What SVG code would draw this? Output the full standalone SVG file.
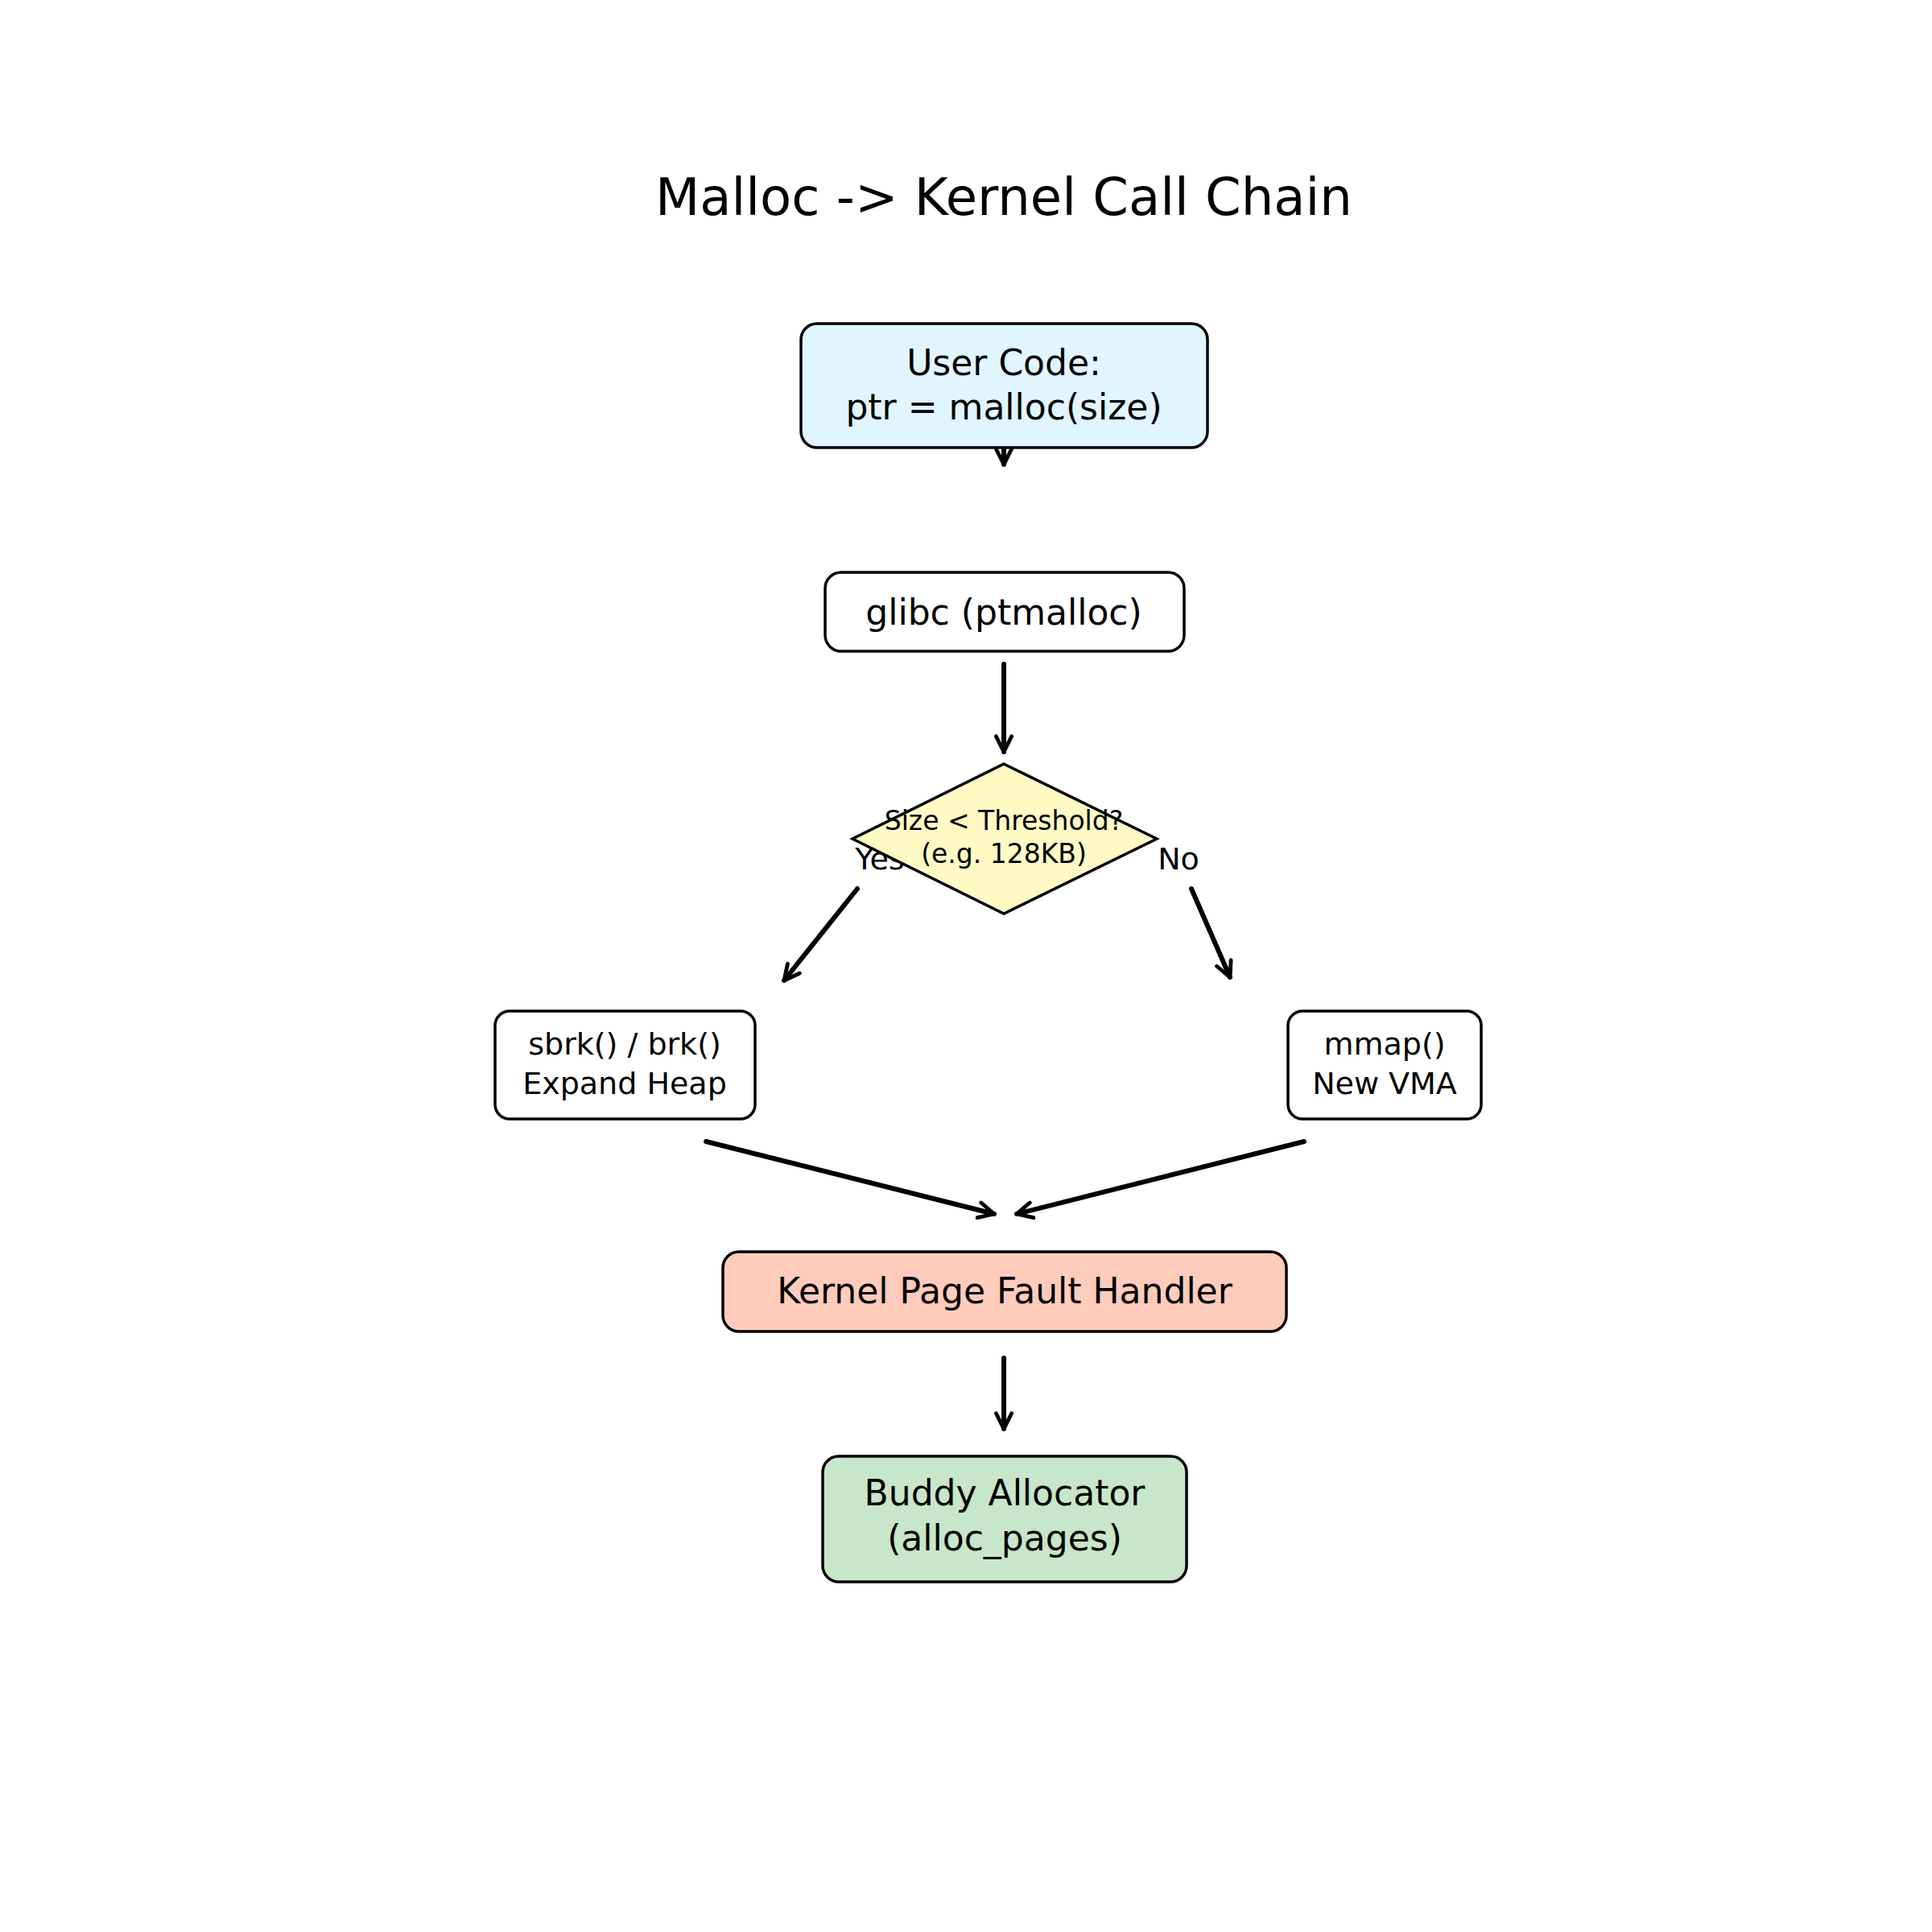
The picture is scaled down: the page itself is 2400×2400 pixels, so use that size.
<svg xmlns="http://www.w3.org/2000/svg" width="2400" height="2400" viewBox="0 0 2400 2400">
<style>
text{font-family:"DejaVu Sans",sans-serif;fill:#000;text-anchor:middle;dominant-baseline:central}
.box{stroke:#000;stroke-width:3.5}
.c{stroke:#000;stroke-width:6;fill:none;stroke-linecap:round;marker-end:url(#ah)}
</style>
<defs>
<marker id="ah" markerWidth="10" markerHeight="10" refX="8" refY="5" orient="auto" markerUnits="userSpaceOnUse" viewBox="0 0 10 10">
</marker>
<marker id="a" viewBox="0 0 20 20" refX="18" refY="10" markerWidth="24" markerHeight="24" markerUnits="userSpaceOnUse" orient="auto">
<path d="M2,2 L18,10 L2,18" fill="none" stroke="#000" stroke-width="4" stroke-linecap="round" stroke-linejoin="round"/>
</marker>
</defs>
<rect width="2400" height="2400" fill="#fff"/>
<text x="1247" y="245" font-size="64">Malloc -&gt; Kernel Call Chain</text>
<g id="connectors">
<path class="c" style="marker-end:url(#a)" d="M1247,556 L1247,577"/>
<path class="c" style="marker-end:url(#a)" d="M1247,825 L1247,934"/>
<path class="c" style="marker-end:url(#a)" d="M1065,1104 L974,1218"/>
<path class="c" style="marker-end:url(#a)" d="M1480,1104 L1528,1214"/>
<path class="c" style="marker-end:url(#a)" d="M877,1418 L1235,1508"/>
<path class="c" style="marker-end:url(#a)" d="M1620,1418 L1263,1508"/>
<path class="c" style="marker-end:url(#a)" d="M1247,1687 L1247,1775"/>
<text x="1093" y="1067" font-size="38">Yes</text>
<text x="1464" y="1067" font-size="38">No</text>
</g>
<g id="user">
<rect class="box" x="995" y="402" width="505" height="154" rx="20" fill="#e1f5fe"/>
<text x="1247" y="450" font-size="44">User Code:</text>
<text x="1247" y="505" font-size="44">ptr = malloc(size)</text>
</g>
<g id="glibc">
<rect class="box" x="1025" y="711" width="446" height="98" rx="20" fill="#fff"/>
<text x="1247" y="760" font-size="44">glibc (ptmalloc)</text>
</g>
<g id="decision">
<polygon class="box" points="1247,949 1437,1042 1247,1135 1059,1042" fill="#fff9c4"/>
<text x="1247" y="1019" font-size="33">Size &lt; Threshold?</text>
<text x="1247" y="1060" font-size="33">(e.g. 128KB)</text>
</g>
<g id="sbrk">
<rect class="box" x="615" y="1256" width="323" height="134" rx="18" fill="#fff"/>
<text x="776" y="1297" font-size="38">sbrk() / brk()</text>
<text x="776" y="1346" font-size="38">Expand Heap</text>
</g>
<g id="mmap">
<rect class="box" x="1600" y="1256" width="240" height="134" rx="18" fill="#fff"/>
<text x="1720" y="1297" font-size="38">mmap()</text>
<text x="1720" y="1346" font-size="38">New VMA</text>
</g>
<g id="kernel">
<rect class="box" x="898" y="1555" width="700" height="99" rx="20" fill="#ffccbc"/>
<text x="1248" y="1603" font-size="44">Kernel Page Fault Handler</text>
</g>
<g id="buddy">
<rect class="box" x="1022" y="1809" width="452" height="156" rx="20" fill="#c8e6c9"/>
<text x="1248" y="1854" font-size="44">Buddy Allocator</text>
<text x="1248" y="1910" font-size="44">(alloc_pages)</text>
</g>
</svg>
